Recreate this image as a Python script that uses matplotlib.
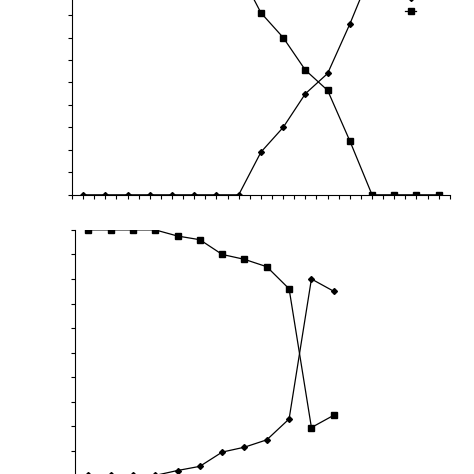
import matplotlib
matplotlib.use("Agg")
import matplotlib.pyplot as plt
from matplotlib.lines import Line2D

# Panel superior (17 puntos)
top_x = list(range(17))
top_rombos = [0, 0, 0, 0, 0, 0, 0, 0, 1.9, 3.0, 4.5, 5.4, 7.6, 10, 10, 10, 10]
top_cuadros = [10, 10, 10, 10, 10, 10, 10, 10, 8.1, 7.0, 5.55, 4.65, 2.4, 0, 0, 0, 0]

# Panel inferior (12 puntos)
bot_x = list(range(12))
bot_rombos = [0, 0, 0, 0, 0.2, 0.37, 0.95, 1.15, 1.45, 2.3, 8.0, 7.5]
bot_cuadros = [10, 10, 10, 10, 9.75, 9.6, 9.0, 8.8, 8.5, 7.6, 1.95, 2.45]


def estilo(ax):
    ax.spines["top"].set_visible(False)
    ax.spines["right"].set_visible(False)
    ax.tick_params(labelbottom=False, labelleft=False, length=3, width=0.8)
    ax.set_yticks(range(0, 11))


fig = plt.figure(figsize=(4.74, 4.74), dpi=100)

ax1 = fig.add_axes([0.152, 0.589, 0.797, 0.474])
ax1.plot(top_x, top_rombos, "k-", marker="D", ms=3, lw=0.9)
ax1.plot(top_x, top_cuadros, "k-", marker="s", ms=5, lw=0.9)
ax1.set_xlim(-0.5, 16.5)
ax1.set_ylim(0, 10)
ax1.set_xticks([i * 0.5 - 0.5 for i in range(35)])
estilo(ax1)
handles = [Line2D([], [], color="k", marker="D", ms=3, lw=0.9),
           Line2D([], [], color="k", marker="s", ms=5, lw=0.9)]
ax1.legend(handles, [" ", " "], frameon=False, loc="upper right",
           bbox_to_anchor=(0.97, 0.94), handlelength=1.0, fontsize=8,
           labelspacing=0.3)

ax2 = fig.add_axes([0.158, -0.003, 0.805, 0.518])
ax2.plot(bot_x, bot_rombos, "k-", marker="D", ms=3, lw=0.9)
ax2.plot(bot_x, bot_cuadros, "k-", marker="s", ms=5, lw=0.9)
ax2.set_xlim(-0.6, 16.5)
ax2.set_ylim(0, 10)
ax2.set_xticks([])
estilo(ax2)
ax2.spines["bottom"].set_visible(False)

fig.savefig("out.png", dpi=100)
